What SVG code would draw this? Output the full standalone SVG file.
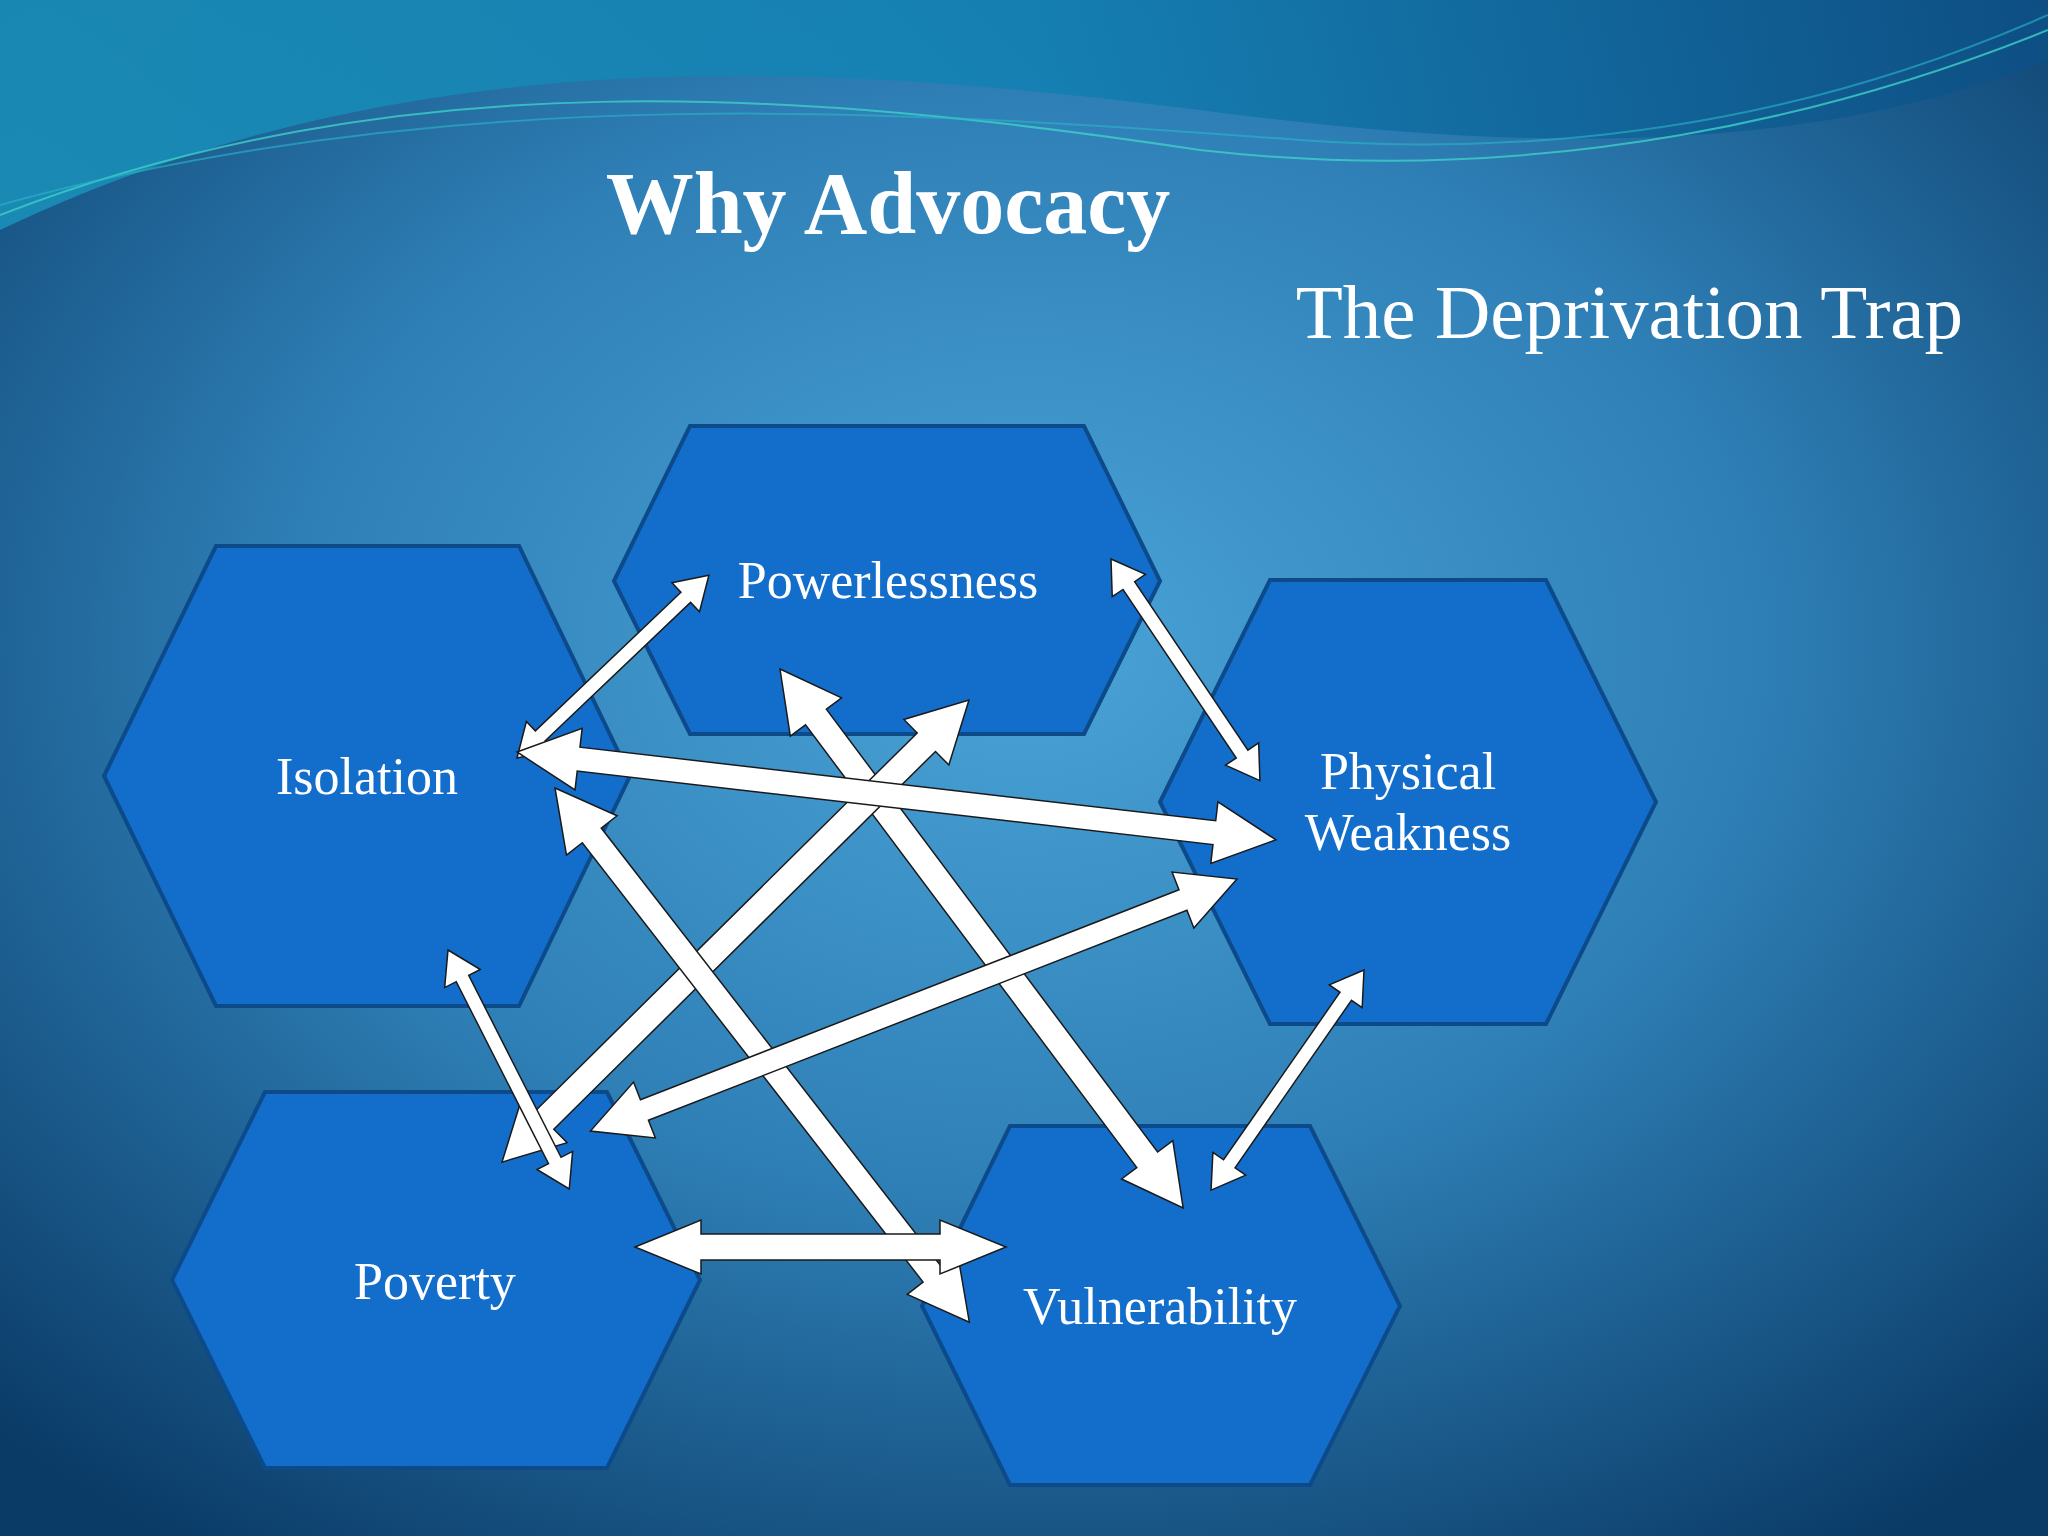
<svg xmlns="http://www.w3.org/2000/svg" width="2048" height="1536" viewBox="0 0 2048 1536">
<defs>
<radialGradient id="bg" cx="0.5" cy="0.42" r="0.72">
<stop offset="0" stop-color="#4aa3d6"/><stop offset="0.5" stop-color="#2e7fb6"/><stop offset="1" stop-color="#0a3a66"/>
</radialGradient>
<linearGradient id="wave" x1="0" y1="0" x2="1" y2="0">
<stop offset="0" stop-color="#1a8fb8"/><stop offset="0.5" stop-color="#1380b3"/><stop offset="1" stop-color="#0d4f85"/>
</linearGradient>
<style>
.hex{fill:#136ecb;stroke:#0d4a8a;stroke-width:4}
.arr{fill:#ffffff;stroke:#1a1a1a;stroke-width:1.5;stroke-linejoin:miter}
.lbl{font-family:"Liberation Serif","DejaVu Serif",serif;font-size:52px;fill:#ffffff;text-anchor:middle;dominant-baseline:central}
</style>
</defs>
<rect width="2048" height="1536" fill="url(#bg)"/>
<path d="M0,0 H2048 V60 C1800,160 1500,150 1200,110 C800,60 400,40 0,230 Z" fill="url(#wave)" opacity="0.9"/>
<path d="M0,215 C400,60 800,90 1200,150 C1550,190 1850,110 2048,30" fill="none" stroke="#3fd0c8" stroke-width="2" opacity="0.8"/>
<path d="M0,205 C450,80 900,110 1300,140 C1650,165 1900,80 2048,15" fill="none" stroke="#2bb5c9" stroke-width="2" opacity="0.6"/>
<text x="888" y="203" font-family="Liberation Serif,DejaVu Serif,serif" font-size="88" font-weight="bold" fill="#fff" text-anchor="middle" dominant-baseline="central">Why Advocacy</text>
<text x="1963" y="338" font-family="Liberation Serif,DejaVu Serif,serif" font-size="77" fill="#fff" text-anchor="end">The Deprivation Trap</text>
<g id="isolation"><polygon class="hex" points="104,776 216,546 519,546 630,776 519,1006 216,1006"/><text class="lbl" x="367" y="776">Isolation</text></g>
<g id="powerlessness"><polygon class="hex" points="614,581 690,426 1084,426 1160,581 1084,734 690,734"/><text class="lbl" x="888" y="580">Powerlessness</text></g>
<g id="physical"><polygon class="hex" points="1160,802 1270,580 1546,580 1656,802 1546,1024 1270,1024"/><text class="lbl" x="1408" y="771">Physical</text><text class="lbl" x="1408" y="832">Weakness</text></g>
<g id="poverty"><polygon class="hex" points="172,1280 265,1092 607,1092 700,1280 607,1468 265,1468"/><text class="lbl" x="435" y="1281">Poverty</text></g>
<g id="vulnerability"><polygon class="hex" points="922,1306 1010,1126 1310,1126 1400,1306 1310,1485 1010,1485"/><text class="lbl" x="1160" y="1306">Vulnerability</text></g>
<g id="connectors">
<polygon class="arr" transform="translate(517,758) rotate(-43.6)" points="0,0 32,-20 32,-7 233,-7 233,-20 265,0 233,20 233,7 32,7 32,20"/>
<polygon class="arr" transform="translate(1111,559) rotate(56.1)" points="0,0 32,-20 32,-7 235,-7 235,-20 267,0 235,20 235,7 32,7 32,20"/>
<polygon class="arr" transform="translate(780,669) rotate(53.2)" points="0,0 60,-32 60,-13 613,-13 613,-32 673,0 613,32 613,13 60,13 60,32"/>
<polygon class="arr" transform="translate(969,700) rotate(135.3)" points="0,0 60,-32 60,-13 597,-13 597,-32 657,0 597,32 597,13 60,13 60,32"/>
<polygon class="arr" transform="translate(517,752) rotate(6.6)" points="0,0 62,-31 62,-12 702,-12 702,-31 764,0 702,31 702,12 62,12 62,31"/>
<polygon class="arr" transform="translate(555,788) rotate(52.2)" points="0,0 60,-32 60,-12 616,-12 616,-32 676,0 616,32 616,12 60,12 60,32"/>
<polygon class="arr" transform="translate(1237,879) rotate(158.7)" points="0,0 58,-30 58,-11 636,-11 636,-30 694,0 636,30 636,11 58,11 58,30"/>
<polygon class="arr" transform="translate(448,950) rotate(63.1)" points="0,0 32,-20 32,-7 236,-7 236,-20 268,0 236,20 236,7 32,7 32,20"/>
<polygon class="arr" transform="translate(1364,970) rotate(124.8)" points="0,0 32,-20 32,-7 236,-7 236,-20 268,0 236,20 236,7 32,7 32,20"/>
<polygon class="arr" transform="translate(635,1247) rotate(0)" points="0,0 66,-27 66,-13 305,-13 305,-27 371,0 305,27 305,13 66,13 66,27"/>
</g>
</svg>
